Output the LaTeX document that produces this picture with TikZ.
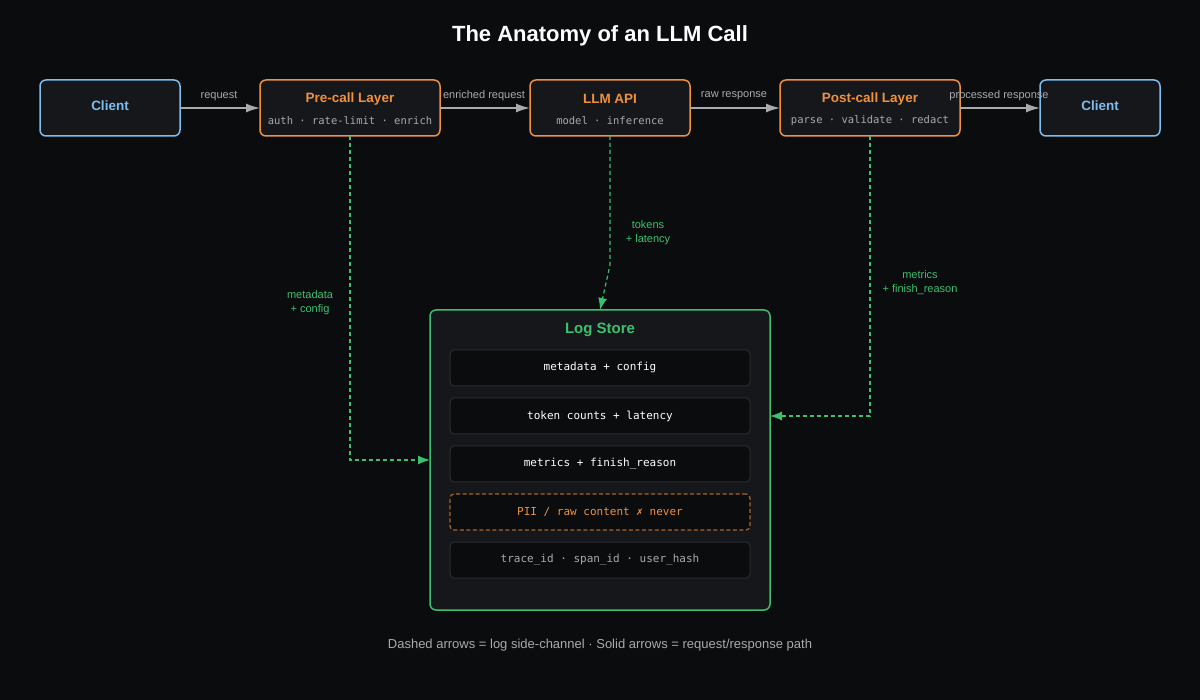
\documentclass[tikz,border=0pt]{standalone}
\usepackage{fontspec}
\setmainfont{Liberation Sans}
\setmonofont{DejaVu Sans Mono}
\usetikzlibrary{arrows.meta}
\definecolor{bg}{HTML}{0B0C0E}
\definecolor{boxbg}{HTML}{16171B}
\definecolor{rowbg}{HTML}{0B0C0E}
\definecolor{blu}{HTML}{7DBEF0}
\definecolor{org}{HTML}{F0913C}
\definecolor{grn}{HTML}{3CC070}
\definecolor{gry}{HTML}{A8AAAE}
\definecolor{rowline}{HTML}{2A2C31}
\tikzset{
 box/.style={draw, line width=1.5pt, rounded corners=6pt, fill=boxbg},
 row/.style={draw=rowline, line width=1pt, rounded corners=4pt, fill=rowbg, minimum width=300pt, minimum height=36pt, font=\ttfamily\fontsize{11}{13}\selectfont, text=white},
 solidarr/.style={draw=gry, line width=1.5pt, -{Latex[length=14pt,width=9pt]}},
 logarr/.style={draw=grn, line width=1.2pt, dash pattern=on 4pt off 3pt, -{Latex[length=12pt,width=9pt]}},
 lbl/.style={font=\fontsize{11}{13}\selectfont, text=gry},
 glbl/.style={font=\fontsize{11}{14}\selectfont, text=grn, align=center},
 ttl/.style={font=\bfseries\fontsize{13.5}{15}\selectfont},
 sub/.style={font=\ttfamily\fontsize{10.5}{12}\selectfont, text=gry}
}
\begin{document}
\begin{tikzpicture}[x=1pt,y=-1pt]
\fill[bg] (0,0) rectangle (1200,700);
\useasboundingbox (0,0) rectangle (1200,700);
\node[font=\bfseries\fontsize{22}{26}\selectfont, text=white] (title) at (600,36) {The Anatomy of an LLM Call};
% top boxes
\draw[box, draw=blu] (40,80) rectangle (180,136);
\node[ttl, text=blu] (c1) at (110,106) {Client};
\coordinate (c1e) at (180,108);
\draw[box, draw=org] (260,80) rectangle (440,136);
\node[ttl, text=org] (pre) at (350,99) {Pre-call Layer};
\node[sub] (pres) at (350,121) {auth · rate-limit · enrich};
\coordinate (prew) at (260,108); \coordinate (pree) at (440,108); \coordinate (pres2) at (350,136);
\draw[box, draw=org] (530,80) rectangle (690,136);
\node[ttl, text=org] (llm) at (610,99) {LLM API};
\node[sub] (llms) at (610,121) {model · inference};
\coordinate (llmw) at (530,108); \coordinate (llme) at (690,108); \coordinate (llmb) at (610,136);
\draw[box, draw=org] (780,80) rectangle (960,136);
\node[ttl, text=org] (post) at (870,99) {Post-call Layer};
\node[sub] (posts) at (870,121) {parse · validate · redact};
\coordinate (postw) at (780,108); \coordinate (poste) at (960,108); \coordinate (postb) at (870,136);
\draw[box, draw=blu] (1040,80) rectangle (1160,136);
\node[ttl, text=blu] (c2) at (1100,106) {Client};
\coordinate (c2w) at (1040,108);
% solid arrows
\draw[solidarr] (c1e) -- (prew);
\node[lbl] (l1) at (219,96) {request};
\draw[solidarr] (pree) -- (llmw);
\node[lbl] (l2) at (484,96) {enriched request};
\draw[solidarr] (llme) -- (postw);
\node[lbl] (l3) at (734,96) {raw response};
\draw[solidarr] (poste) -- (c2w);
\node[lbl] (l4) at (999,96) {processed response};
% log store
\draw[box, draw=grn] (430,310) rectangle (770,610);
\node[ttl, text=grn, font=\bfseries\fontsize{15}{17}\selectfont] (ls) at (600,330) {Log Store};
\coordinate (lsw) at (430,460); \coordinate (lse) at (770,416); \coordinate (lst) at (600,310);
\node[row] (r1) at (600,368) {metadata + config};
\node[row] (r2) at (600,416) {token counts + latency};
\node[row] (r3) at (600,464) {metrics + finish\_reason};
\node[row, draw=org!70!black, dash pattern=on 4pt off 2.5pt, line width=1.2pt, text=org] (r4) at (600,512) {PII / raw content ✗ never};
\node[row, text=gry] (r5) at (600,560) {trace\_id · span\_id · user\_hash};
% dashed log arrows
\draw[logarr] (pres2) |- (lsw);
\node[glbl] (g1) at (310,303) {metadata\\+ config};
\draw[logarr] (llmb) -- (610,265) -- (lst);
\node[glbl] (g2) at (648,233) {tokens\\+ latency};
\draw[logarr] (postb) |- (lse);
\node[glbl] (g3) at (920,283) {metrics\\+ finish\_reason};
\node[font=\fontsize{13}{15}\selectfont, text=gry] (foot) at (600,645) {Dashed arrows = log side-channel · Solid arrows = request/response path};
\end{tikzpicture}
\end{document}
